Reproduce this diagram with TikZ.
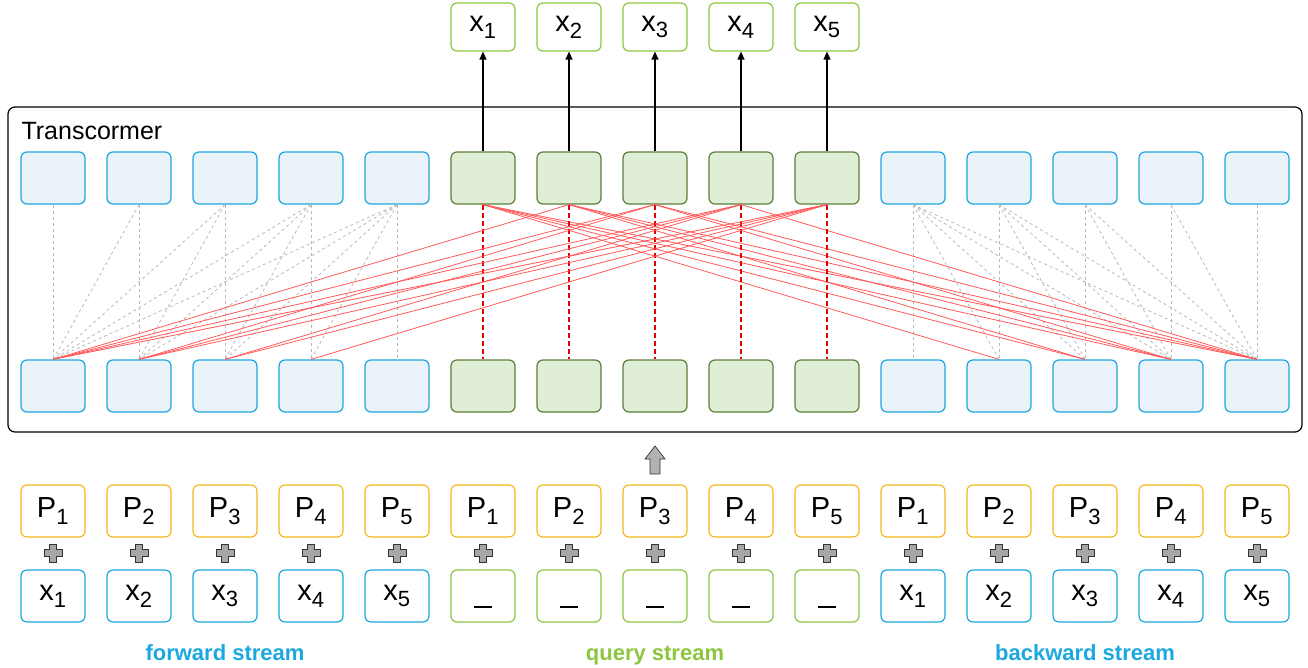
\documentclass[tikz,border=0pt]{standalone}
\usepackage{fontspec}
\setmainfont{Liberation Sans}
\usetikzlibrary{arrows.meta}
\definecolor{bl}{HTML}{1BA8DF}
\definecolor{blf}{HTML}{EAF2FA}
\definecolor{gr}{HTML}{5A7F3A}
\definecolor{grf}{HTML}{E0EED6}
\definecolor{lg}{HTML}{8CC63F}
\definecolor{yl}{HTML}{F5B81B}
\begin{document}
\begin{tikzpicture}[x=1pt,y=-1pt,
  hb/.style={draw=bl,fill=blf,line width=1.2pt,rounded corners=6pt,minimum width=64pt,minimum height=52pt,inner sep=0pt},
  hq/.style={draw=gr,fill=grf,line width=1.2pt,rounded corners=6pt,minimum width=64pt,minimum height=52pt,inner sep=0pt},
  pb/.style={draw=yl,line width=1.2pt,rounded corners=6pt,minimum width=64pt,minimum height=52pt,inner sep=0pt,font=\fontsize{29}{29}\selectfont},
  xb/.style={draw=bl,line width=1.2pt,rounded corners=6pt,minimum width=64pt,minimum height=52pt,inner sep=0pt,font=\fontsize{29}{29}\selectfont},
  qb/.style={draw=lg,line width=1.2pt,rounded corners=6pt,minimum width=64pt,minimum height=52pt,inner sep=0pt,font=\fontsize{29}{29}\selectfont},
  ob/.style={draw=lg,line width=1.2pt,rounded corners=6pt,minimum width=64pt,minimum height=48pt,inner sep=0pt,font=\fontsize{29}{29}\selectfont},
  gl/.style={draw=gray!55,dashed,line width=0.8pt},
  rl/.style={draw=red!65,line width=0.8pt},
  rd/.style={draw=red!90!black,dash pattern=on 5pt off 3pt,line width=1.4pt},
  plusc/.style={fill=gray!70,draw=gray!40!black,line width=0.6pt},
  sl/.style={font=\bfseries\fontsize{22}{22}\selectfont,anchor=base}]
\useasboundingbox (0,0) rectangle (1308,668);
\node[draw=black,line width=1.2pt,rounded corners=7pt,minimum width=1294pt,minimum height=325pt] (tf) at (655,269.5) {};
\node[anchor=west,font=\fontsize{25}{25}\selectfont] (tl) at (18,131) {Transcormer};
\foreach \i in {1,...,15}{
  \pgfmathsetmacro{\xx}{53+86*(\i-1)}
  \ifnum\i>5 \ifnum\i<11
    \node[hq] (t\i) at (\xx,178) {};
    \node[hq] (b\i) at (\xx,386) {};
  \else
    \node[hb] (t\i) at (\xx,178) {};
    \node[hb] (b\i) at (\xx,386) {};
  \fi\else
    \node[hb] (t\i) at (\xx,178) {};
    \node[hb] (b\i) at (\xx,386) {};
  \fi
  \pgfmathtruncatemacro{\k}{mod(\i-1,5)+1}
  \node[pb] (p\i) at (\xx,511) {P\textsubscript{\fontsize{22}{22}\selectfont\raisebox{-3pt}{\k}}};
  \path[plusc] (\xx-3.5,544)--(\xx+3.5,544)--(\xx+3.5,549.5)--(\xx+9,549.5)--(\xx+9,556.5)--(\xx+3.5,556.5)--(\xx+3.5,562)--(\xx-3.5,562)--(\xx-3.5,556.5)--(\xx-9,556.5)--(\xx-9,549.5)--(\xx-3.5,549.5)--cycle;
}
\foreach \i in {1,...,5}{
  \pgfmathsetmacro{\xx}{53+86*(\i-1)}
  \pgfmathsetmacro{\xy}{53+86*(\i+9)}
  \pgfmathsetmacro{\xq}{53+86*(\i+4)}
  \node[xb] (xf\i) at (\xx,596) {x\textsubscript{\fontsize{22}{22}\selectfont\raisebox{-3pt}{\i}}};
  \node[xb] (xr\i) at (\xy,596) {x\textsubscript{\fontsize{22}{22}\selectfont\raisebox{-3pt}{\i}}};
  \node[qb] (xq\i) at (\xq,596) {};
  \draw[line width=2pt] ([xshift=-9pt,yshift=-11pt]xq\i.center) -- ([xshift=9pt,yshift=-11pt]xq\i.center);
  \node[ob] (o\i) at (\xq,27) {x\textsubscript{\fontsize{22}{22}\selectfont\raisebox{-3pt}{\i}}};
}
% forward
\foreach \i in {1,...,5}{\foreach \j in {1,...,\i}{\draw[gl] (t\i.south) -- (b\j.north);}}
% backward
\foreach \i in {11,...,15}{\foreach \j in {\i,...,15}{\draw[gl] (t\i.south) -- (b\j.north);}}
% query
\foreach \k in {1,...,5}{
  \pgfmathtruncatemacro{\q}{\k+5}
  \draw[rd] (t\q.south) -- (b\q.north);
  \draw[-{Triangle[length=8pt,width=7pt]},line width=1.2pt] (t\q.north) -- (o\k.south);
  \ifnum\k>1 \foreach \j in {2,...,\k}{\pgfmathtruncatemacro{\jj}{\j-1}\draw[rl] (t\q.south) -- (b\jj.north);}\fi
  \ifnum\k<5 \foreach \j in {\k,...,4}{\pgfmathtruncatemacro{\jj}{\j+11}\draw[rl] (t\q.south) -- (b\jj.north);}\fi
}
\path[fill=gray!60,draw=gray!40!black,line width=0.7pt] (650,474)--(650,459)--(645,459)--(655,446)--(665,459)--(660,459)--(660,474)--cycle;
\node[sl,text=bl] (fs) at (225,660) {forward stream};
\node[sl,text=lg] (qs) at (655,660) {query stream};
\node[sl,text=bl] (bs) at (1085,660) {backward stream};
\end{tikzpicture}
\end{document}
